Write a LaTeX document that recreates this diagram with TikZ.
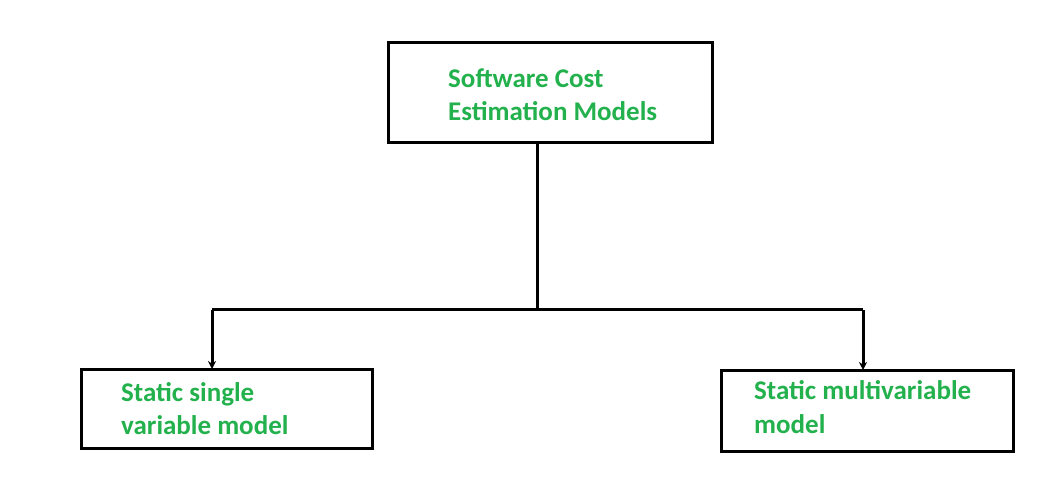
\documentclass[tikz,border=0pt]{standalone}
\usepackage{fontspec}
\setmainfont{Carlito}
\usetikzlibrary{arrows.meta}
\definecolor{tgreen}{RGB}{34,177,76}
\begin{document}
\begin{tikzpicture}[x=1pt,y=-1pt,
  lbl/.style={text=tgreen,font=\bfseries\fontsize{27}{33}\selectfont,align=left,anchor=base west,inner sep=0pt},
  conn/.style={line width=3pt},
  arr/.style={line width=3pt,-{Stealth[length=8pt,width=8pt]}}]
\useasboundingbox (0,0) rectangle (1063,502);
\draw[line width=3pt] (388,43) rectangle (712,143);
\draw[line width=3pt] (81,370) rectangle (372,448);
\draw[line width=3pt] (721,371) rectangle (1013,451);
\node[lbl] (t) at (448,121) {Software Cost\\Estimation Models};
\node[lbl] (l) at (121,435) {Static single\\variable model};
\node[lbl] (r) at (754,433) {Static multivariable\\model};
\coordinate (top) at (537,143);
\coordinate (mid) at (537,310);
\coordinate (lc) at (212,310);
\coordinate (rc) at (863,310);
\coordinate (le) at (212,369);
\coordinate (re) at (863,370);
\draw[conn] (top) -- (mid);
\draw[conn] (lc) -- (rc);
\draw[arr] (lc) -- (le);
\draw[arr] (rc) -- (re);
\end{tikzpicture}
\end{document}
